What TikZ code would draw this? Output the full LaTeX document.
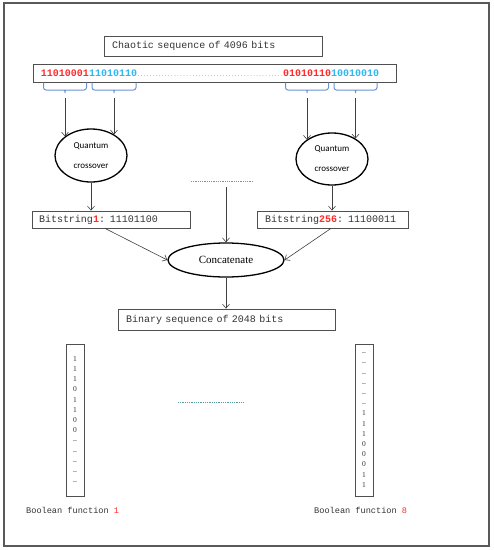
\documentclass[tikz,border=0pt]{standalone}
\usepackage{fontspec}
\setmainfont{Liberation Serif}
\newfontfamily\cnfont{Liberation Mono}
\newfontfamily\qcfont{Carlito}
\usetikzlibrary{arrows.meta,shapes.geometric}
\definecolor{cred}{HTML}{FF2A2A}
\definecolor{ccyan}{HTML}{2EB8EE}
\definecolor{cbrace}{HTML}{6A92D2}
\definecolor{cbox}{HTML}{505050}
\definecolor{ctext}{HTML}{333333}
\definecolor{cdotA}{HTML}{7F8FA6}
\definecolor{cdotB}{HTML}{5A9AA0}
\begin{document}
\begin{tikzpicture}[x=1pt,y=-1pt,
  box/.style={draw=cbox, line width=0.8pt, rectangle, inner ysep=0pt, align=left,
    font=\cnfont\fontsize{10}{12}\selectfont, text=ctext},
  ell/.style={draw=black, line width=1.3pt, ellipse, inner sep=0pt, align=center},
  arr/.style={draw=black!75, line width=0.6pt, -{Straight Barb[length=4pt,width=7pt]}},
  brc/.style={draw=cbrace, line width=1pt, rounded corners=2.5pt},
  dotline/.style={line width=0.9pt, dash pattern=on 0.7pt off 1.1pt},
  col/.style={draw=cbox, line width=0.9pt, rectangle, inner sep=0pt, align=center,
    minimum width=18pt, minimum height=152pt, font=\fontsize{7.5}{10.2}\selectfont, text=ctext},
  lbl/.style={anchor=west, inner sep=0pt, font=\cnfont\fontsize{8.6}{10}\selectfont, text=ctext}]

\useasboundingbox (0,0) rectangle (494,550);
\draw[draw=black!65, line width=1.5pt] (4,3) rectangle (489,546);

% top boxes
\node[box, minimum width=218pt, minimum height=20pt, text width=202pt, inner xsep=8pt]
  (chaos) at (213,46) {Chaotic sequence of 4096 bits};
\node[box, minimum width=363pt, minimum height=18pt, text width=347pt, inner xsep=8pt]
  (bits) at (214.5,73) {{\bfseries\color{cred}11010001\color{ccyan}11010110}\makebox[146pt]{\color{gray}\fontsize{5}{5}\selectfont\xleaders\hbox{.}\hfill}{\bfseries\color{cred}01010110\color{ccyan}10010010}};

% braces
\foreach \c/\h in {65/21.5, 114/22, 307/21.5, 355.5/21.5}
  \draw[brc] (\c-\h,82.5) |- (\c-2,90) to[out=0,in=90] (\c,94.5) to[out=90,in=180] (\c+2,90) -| (\c+\h,82.5);

% quantum crossover ellipses
\node[ell, minimum width=72pt, minimum height=53pt, font=\qcfont\fontsize{9}{20}\selectfont]
  (qc1) at (91,155.5) {Quantum\\crossover};
\node[ell, minimum width=72pt, minimum height=52pt, font=\qcfont\fontsize{9}{20}\selectfont]
  (qc2) at (332,159) {Quantum\\crossover};

\coordinate (t1) at (65,98);
\coordinate (t2) at (114,98);
\coordinate (t3) at (307,98);
\coordinate (t4) at (355.5,98);
\draw[arr] (t1) -- (t1 |- qc1.144);
\draw[arr] (t2) -- (t2 |- qc1.42);
\draw[arr] (t3) -- (t3 |- qc2.143);
\draw[arr] (t4) -- (t4 |- qc2.41);

% middle dotted line and vertical
\coordinate (da) at (191,181);
\coordinate (db) at (253,181);
\draw[dotline, draw=cdotA] (da) -- (db);
\coordinate (v1) at (226,187);

% bitstrings
\node[box, minimum width=158pt, minimum height=17pt, text width=144pt, inner xsep=7pt]
  (bs1) at (111,219.5) {Bitstring{\bfseries\color{cred}1}: 11101100};
\node[box, minimum width=151pt, minimum height=17pt, text width=135pt, inner xsep=8pt]
  (bs2) at (332.5,219.5) {Bitstring{\bfseries\color{cred}256}: 11100011};

\draw[arr] (qc1.south) -- (qc1.south |- bs1.north);
\draw[arr] (qc2.south) -- (qc2.south |- bs2.north);

% concatenate
\node[ell, minimum width=116pt, minimum height=34pt, font=\fontsize{11}{13}\selectfont]
  (concat) at (226,260) {Concatenate};
\draw[arr] (v1) -- (concat.north);
\draw[arr] ([xshift=-6pt]bs1.south) -- (concat.west);
\draw[arr] ([xshift=-1.5pt]bs2.south) -- (concat.east);

% binary sequence
\node[box, minimum width=217pt, minimum height=21pt, text width=201pt, inner xsep=8pt]
  (bin) at (226.5,319.5) {Binary sequence of 2048 bits};
\draw[arr] (concat.south) -- (concat.south |- bin.north);

% boolean function columns
\node[col] (col1) at (75,420) {1\\1\\1\\0\\1\\1\\0\\0\\--\\--\\--\\--\\--};
\node[col] (col2) at (364,420) {--\\--\\--\\--\\--\\--\\1\\1\\1\\0\\0\\0\\1\\1};

\coordinate (dc) at (178,402);
\coordinate (dd) at (243,402);
\draw[dotline, draw=cdotB] (dc) -- (dd);

\node[lbl] (bf1) at (26,510) {Boolean function {\color{cred}1}};
\node[lbl] (bf8) at (314,510) {Boolean function {\color{cred}8}};
\end{tikzpicture}
\end{document}
